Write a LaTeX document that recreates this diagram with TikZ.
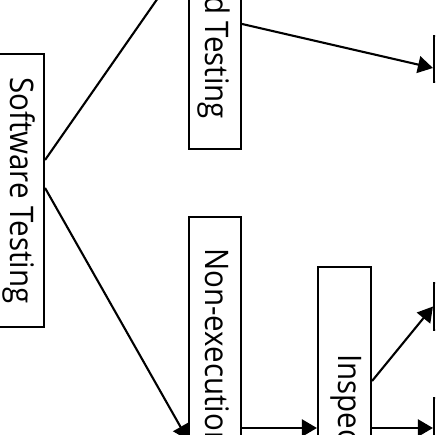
\documentclass[tikz,border=0pt]{standalone}
\usepackage{fontspec}
\setmainfont{Open Sans}
\usepackage{graphicx}
\usetikzlibrary{arrows.meta}
\newcommand{\rtext}[1]{\rotatebox{-90}{\scalebox{1}[1.1]{\rule[-8pt]{0pt}{32pt}#1}}}
\begin{document}
\begin{tikzpicture}[x=1pt,y=1pt,
  box/.style={draw, line width=2.1pt, inner sep=0pt},
  txt/.style={inner sep=0pt, font=\fontsize{29.5}{35}\selectfont},
  conn/.style={line width=2.1pt, -{Triangle[length=15pt,width=17pt]}}]
\path[use as bounding box] (0,0) rectangle (435,435);
\clip (0,0) rectangle (435,435);
% boxes
\node[box, minimum width=48pt, minimum height=273pt] (st) at (20,244.5) {};
\node[box, minimum width=52pt, minimum height=209pt] (dt) at (215,390.5) {};
\node[box, minimum width=52pt, minimum height=258pt] (ne) at (215,89) {};
\node[box, minimum width=53pt, minimum height=333pt] (ins) at (344.5,1.5) {};
\node[box, minimum width=56pt, minimum height=46pt] (r1) at (462,376) {};
\node[box, minimum width=56pt, minimum height=47pt] (r2) at (462,128.5) {};
\node[box, minimum width=56pt, minimum height=46pt] (r3) at (462,14) {};
% texts
\node[txt, anchor=north west] (stt) at (1.7,358) {\rtext{Software Testing}};
\node[txt, anchor=south west] (dtt) at (196.2,316) {\rtext{d Testing}};
\node[txt, anchor=north west] (net) at (196.2,187) {\rtext{Non-execution}};
\node[txt, anchor=north west] (inst) at (329.2,81) {\rtext{Inspection}};
% connectors
\draw[conn] ([yshift=30.5pt]st.east) -- ([yshift=89.5pt]dt.west);
\draw[conn] ([yshift=2.5pt]st.east) -- ([yshift=-94pt]ne.west);
\draw[conn] ([yshift=20.5pt]dt.east) -- ([yshift=-9pt]r1.west);
\draw[conn] ([yshift=-82pt]ne.east) -- ([yshift=-82pt]ne.east -| ins.west);
\draw[conn] ([yshift=52.5pt]ins.east) -- (r2.west);
\draw[conn] ([yshift=5.5pt]ins.east) -- ([yshift=5.5pt]ins.east -| r3.west);
\end{tikzpicture}
\end{document}
